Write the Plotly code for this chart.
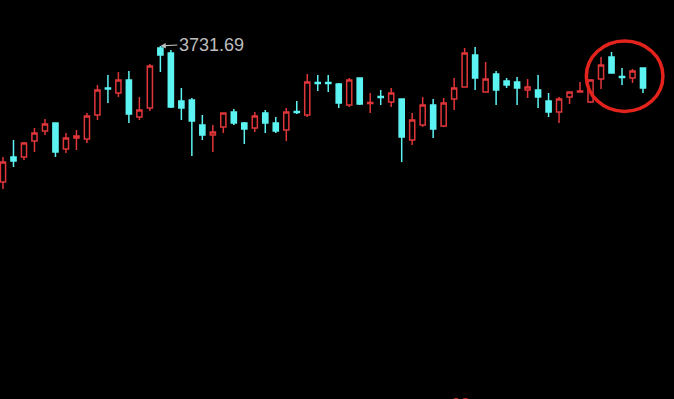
import plotly.graph_objects as go

# Weekly candles (index 0..61)
opens = [3239.4, 3329.9, 3329.9, 3387.8, 3424.0, 3452.9, 3358.8, 3398.6, 3395.0, 3481.9,
         3579.6, 3561.5, 3608.6, 3474.7, 3507.2, 3724.4, 3706.3, 3532.6, 3536.2, 3445.7,
         3409.5, 3438.5, 3492.8, 3452.9, 3434.8, 3489.1, 3452.9, 3427.6, 3494.6, 3481.9,
         3599.6, 3599.6, 3594.1, 3518.1, 3615.8, 3523.5, 3548.9, 3529.0, 3539.8, 3391.4,
         3445.7, 3518.1, 3442.1, 3539.8, 3583.3, 3699.1, 3565.2, 3630.3, 3605.0, 3601.4,
         3572.4, 3572.4, 3532.6, 3492.8, 3547.1, 3565.2, 3529.0, 3612.2, 3691.9, 3621.3,
         3615.8, 3652.0]
highs = [3329.9, 3391.4, 3384.2, 3434.8, 3467.4, 3452.9, 3416.7, 3427.6, 3489.1, 3590.5,
         3626.7, 3637.6, 3641.2, 3547.1, 3666.5, 3731.69, 3717.2, 3579.6, 3543.4, 3481.9,
         3445.7, 3489.1, 3503.6, 3456.6, 3492.8, 3500.0, 3474.7, 3507.2, 3532.6, 3630.3,
         3626.7, 3626.7, 3597.7, 3615.8, 3615.8, 3561.5, 3572.4, 3579.6, 3539.8, 3489.1,
         3547.1, 3539.8, 3543.4, 3615.8, 3724.4, 3728.1, 3673.8, 3641.2, 3615.8, 3619.5,
         3612.2, 3626.7, 3561.5, 3547.1, 3565.2, 3601.4, 3612.2, 3691.9, 3710.0, 3652.0,
         3648.4, 3652.0]
lows = [3214.0, 3293.7, 3319.0, 3348.0, 3409.5, 3329.9, 3344.3, 3355.2, 3380.5, 3463.8,
        3525.3, 3547.1, 3452.9, 3463.8, 3496.4, 3637.6, 3507.2, 3463.8, 3333.5, 3391.4,
        3348.0, 3416.7, 3445.7, 3376.9, 3420.4, 3416.7, 3416.7, 3387.8, 3485.5, 3474.7,
        3568.8, 3565.2, 3507.2, 3510.9, 3518.1, 3489.1, 3518.1, 3510.9, 3311.8, 3373.3,
        3438.5, 3398.6, 3438.5, 3500.0, 3583.3, 3572.4, 3565.2, 3518.1, 3579.6, 3518.1,
        3543.4, 3507.2, 3474.7, 3452.9, 3521.7, 3565.2, 3525.3, 3576.0, 3634.0, 3590.5,
        3597.7, 3561.5]
closes = [3311.8, 3315.4, 3380.5, 3416.7, 3449.3, 3348.0, 3398.6, 3405.9, 3478.3, 3572.4,
          3576.0, 3608.6, 3485.5, 3500.0, 3659.3, 3699.1, 3510.9, 3507.2, 3460.2, 3409.5,
          3420.4, 3489.1, 3452.9, 3431.2, 3478.3, 3452.9, 3424.0, 3492.8, 3490.9, 3601.4,
          3595.9, 3595.9, 3525.3, 3608.6, 3521.7, 3527.2, 3545.3, 3561.5, 3402.3, 3463.8,
          3518.1, 3431.2, 3525.3, 3579.6, 3706.3, 3615.8, 3612.2, 3572.4, 3590.5, 3579.6,
          3583.3, 3547.1, 3492.8, 3539.8, 3565.2, 3568.8, 3608.6, 3662.9, 3634.0, 3617.7,
          3641.2, 3579.6]

x = list(range(len(opens)))
peak_label = "3731.69"
peak_idx = highs.index(max(highs))

RED = "#e0363a"
CYAN = "#5cf4f2"

fig = go.Figure(go.Candlestick(
    x=x, open=opens, high=highs, low=lows, close=closes,
    increasing=dict(line=dict(color=RED, width=1.5), fillcolor="#000000"),
    decreasing=dict(line=dict(color=CYAN, width=1.5), fillcolor=CYAN),
    whiskerwidth=0, showlegend=False, hoverinfo="skip",
))

fig.add_annotation(
    x=peak_idx, y=highs[peak_idx], xref="x", yref="y",
    text=peak_label, showarrow=True, ax=17, ay=-1, xanchor="left",
    arrowhead=2, arrowsize=0.9, arrowwidth=1.2, arrowcolor="#bdbdbd",
    font=dict(family="Liberation Sans, Arial", size=18, color="#bdbdbd"),
)

# red highlight ring around the last candles
fig.add_shape(type="circle", xref="x", yref="y",
              x0=55.6, x1=62.9, y0=3495.0, y1=3750.0,
              line=dict(color="#e3231c", width=3.5))

# clipped red text at the bottom edge
fig.add_annotation(x=0.683, y=0.012, xref="paper", yref="paper",
                   text="88", showarrow=False, xanchor="center", yanchor="top",
                   font=dict(family="DejaVu Sans", size=15, color="#c0262a"))

fig.update_layout(
    width=674, height=399,
    margin=dict(l=0, r=0, t=0, b=0),
    paper_bgcolor="#000000", plot_bgcolor="#000000",
    xaxis=dict(range=[-0.286, 63.955], visible=False, rangeslider=dict(visible=False)),
    yaxis=dict(range=[2453.8, 3898.2], visible=False),
)

fig.write_html("out.html")
